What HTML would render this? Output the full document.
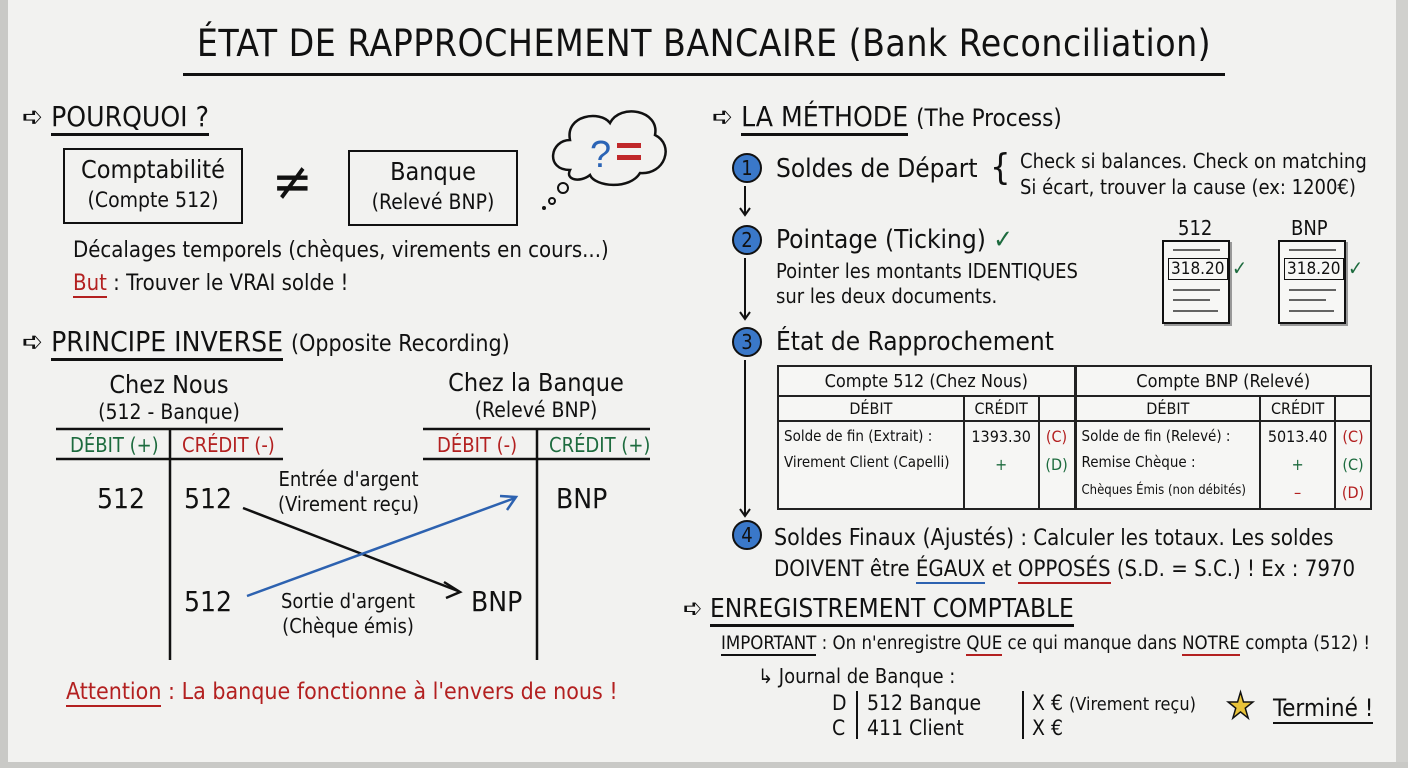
<!DOCTYPE html>
<html><head><meta charset="utf-8"><style>
*{margin:0;padding:0;box-sizing:border-box}
body{width:1408px;height:768px;overflow:hidden;background:#f2f2f0;font-family:"Liberation Sans Narrow","DejaVu Sans Condensed","Liberation Sans",sans-serif;color:#111;position:relative}
.a{position:absolute;white-space:nowrap}
.g{color:#1d6b3e}.r{color:#b32020}
.u{border-bottom:2px solid #b32020}
.box{position:absolute;border:2.5px solid #111;text-align:center;line-height:1.15}
.num{position:absolute;width:30px;height:30px;border-radius:50%;background:#3a78c9;border:2px solid #111;color:#111;font-size:20px;text-align:center;line-height:27px}
table{border-collapse:collapse}
td{border:2px solid #222;padding:1px 5px;font-size:16px;white-space:nowrap}
</style></head><body>
<div class="a" style="left:0;top:0;width:8px;height:768px;background:#c9c9c6"></div>
<div class="a" style="right:0;top:0;width:12px;height:768px;background:#d0d0cd"></div>
<div class="a" style="left:0;bottom:0;width:1408px;height:6px;background:#c9c9c6"></div>

<div class="a" style="left:183px;top:22px;width:1042px;text-align:center;font-size:37px;letter-spacing:0.5px">ÉTAT DE RAPPROCHEMENT BANCAIRE (Bank Reconciliation)</div>
<div class="a" style="left:183px;top:73px;width:1042px;height:3px;background:#111"></div>

<div class="a" style="left:22px;top:100px;font-size:28px">➪ <span style="border-bottom:3px solid #111">POURQUOI ?</span></div>
<div class="box" style="left:63px;top:148px;width:180px;height:76px;font-size:25px;padding-top:6px">Comptabilité<br><span style="font-size:21px">(Compte 512)</span></div>
<div class="a" style="left:272px;top:150px;font-size:54px">≠</div>
<div class="box" style="left:348px;top:150px;width:170px;height:76px;font-size:25px;padding-top:6px">Banque<br><span style="font-size:21px">(Relevé BNP)</span></div>
<svg class="a" style="left:535px;top:95px" width="140" height="120"><path d="M35 75 C10 75 15 45 35 45 C30 20 65 15 75 28 C85 8 125 15 120 40 C140 50 130 80 105 78 C95 95 60 92 55 80 C45 88 30 85 35 75Z" fill="none" stroke="#111" stroke-width="2.5"/><text x="55" y="72" font-size="38" fill="#2b64b5" font-family="Liberation Sans">?</text><rect x="82" y="48" width="24" height="5" fill="#c0282a"/><rect x="82" y="60" width="24" height="5" fill="#c0282a"/><circle cx="28" cy="93" r="5" fill="none" stroke="#111" stroke-width="2"/><circle cx="17" cy="106" r="3" fill="none" stroke="#111" stroke-width="2"/><circle cx="9" cy="113" r="2" fill="#111"/></svg>
<div class="a" style="left:73px;top:238px;font-size:22px">Décalages temporels (chèques, virements en cours...)</div>
<div class="a" style="left:73px;top:271px;font-size:22px"><span class="u r">But</span> : Trouver le VRAI solde !</div>

<div class="a" style="left:22px;top:325px;font-size:28px">➪ <span style="border-bottom:3px solid #111">PRINCIPE INVERSE</span> <span style="font-size:23px">(Opposite Recording)</span></div>
<div class="a" style="left:56px;top:372px;width:226px;text-align:center;font-size:25px;line-height:1.05">Chez Nous<br><span style="font-size:21px">(512 - Banque)</span></div>
<div class="a" style="left:423px;top:370px;width:226px;text-align:center;font-size:25px;line-height:1.05">Chez la Banque<br><span style="font-size:21px">(Relevé BNP)</span></div>
<svg class="a" style="left:0;top:0" width="700" height="700">
<g stroke="#111" stroke-width="2.5" fill="none">
<line x1="56" y1="429" x2="283" y2="429"/><line x1="56" y1="459" x2="283" y2="459"/><line x1="170" y1="429" x2="170" y2="660"/>
<line x1="423" y1="429" x2="650" y2="429"/><line x1="423" y1="459" x2="650" y2="459"/><line x1="537" y1="429" x2="537" y2="660"/>
<line x1="243" y1="508" x2="458" y2="591"/><polyline points="444,582 460,592 446,598"/></g>
<g stroke="#2d62b0" stroke-width="2.5" fill="none"><line x1="247" y1="596" x2="515" y2="498"/><polyline points="500,496 516,497 507,510"/></g>
</svg>
<div class="a g" style="left:70px;top:433px;font-size:20px">DÉBIT (+)</div>
<div class="a r" style="left:182px;top:433px;font-size:20px">CRÉDIT (-)</div>
<div class="a r" style="left:437px;top:433px;font-size:20px">DÉBIT (-)</div>
<div class="a g" style="left:549px;top:433px;font-size:20px">CRÉDIT (+)</div>
<div class="a" style="left:97px;top:482px;font-size:28px">512</div>
<div class="a" style="left:184px;top:482px;font-size:28px">512</div>
<div class="a" style="left:184px;top:585px;font-size:28px">512</div>
<div class="a" style="left:556px;top:482px;font-size:28px">BNP</div>
<div class="a" style="left:471px;top:585px;font-size:28px">BNP</div>
<div class="a" style="left:278px;top:467px;font-size:20px;text-align:center;line-height:1.25">Entrée d'argent<br>(Virement reçu)</div>
<div class="a" style="left:281px;top:589px;font-size:20px;text-align:center;line-height:1.25">Sortie d'argent<br>(Chèque émis)</div>
<div class="a r" style="left:66px;top:679px;font-size:23px"><span class="u">Attention</span> : La banque fonctionne à l'envers de nous !</div>

<div class="a" style="left:712px;top:100px;font-size:28px">➪ <span style="border-bottom:3px solid #111">LA MÉTHODE</span> <span style="font-size:24px">(The Process)</span></div>
<div class="num" style="left:732px;top:153px">1</div>
<div class="num" style="left:732px;top:225px">2</div>
<div class="num" style="left:732px;top:327px">3</div>
<div class="num" style="left:732px;top:520px">4</div>
<svg class="a" style="left:735px;top:180px" width="20" height="350"><g stroke="#111" stroke-width="2" fill="none"><line x1="10" y1="6" x2="10" y2="34"/><polyline points="5,28 10,35 15,28"/><line x1="10" y1="78" x2="10" y2="138"/><polyline points="5,132 10,139 15,132"/><line x1="10" y1="180" x2="10" y2="335"/><polyline points="5,329 10,336 15,329"/></g></svg>
<div class="a" style="left:776px;top:154px;font-size:26px">Soldes de Départ</div>
<div class="a" style="left:990px;top:150px;font-size:36px;font-weight:100;line-height:1">{</div>
<div class="a" style="left:1020px;top:148px;font-size:20px;line-height:1.3">Check si balances. Check on matching<br>Si écart, trouver la cause (ex: 1200€)</div>
<div class="a" style="left:776px;top:225px;font-size:26px">Pointage (Ticking) <span class="g">✓</span></div>
<div class="a" style="left:776px;top:259px;font-size:20px;line-height:1.25">Pointer les montants IDENTIQUES<br>sur les deux documents.</div>
<div class="a" style="left:1178px;top:216px;font-size:20px">512</div>
<div class="a" style="left:1291px;top:216px;font-size:20px">BNP</div>
<div class="a" style="left:1162px;top:240px;width:68px;height:84px;border:2px solid #111;background:#f7f7f5;box-shadow:2px 2px 0 #999"></div>
<div class="a" style="left:1278px;top:240px;width:68px;height:84px;border:2px solid #111;background:#f7f7f5;box-shadow:2px 2px 0 #999"></div>
<div class="a" style="left:1168px;top:258px;border:1.5px solid #111;font-size:17px;padding:0 2px">318.20</div>
<div class="a" style="left:1284px;top:258px;border:1.5px solid #111;font-size:17px;padding:0 2px">318.20</div>
<div class="a g" style="left:1232px;top:256px;font-size:20px">✓</div>
<div class="a g" style="left:1348px;top:256px;font-size:20px">✓</div>
<svg class="a" style="left:1170px;top:245px" width="180" height="75"><g stroke="#333" stroke-width="1.5"><line x1="3" y1="5" x2="50" y2="5"/><line x1="3" y1="45" x2="50" y2="45"/><line x1="3" y1="55" x2="40" y2="55"/><line x1="3" y1="66" x2="48" y2="66"/><line x1="119" y1="5" x2="166" y2="5"/><line x1="119" y1="45" x2="166" y2="45"/><line x1="119" y1="55" x2="156" y2="55"/><line x1="119" y1="66" x2="164" y2="66"/></g></svg>
<div class="a" style="left:776px;top:327px;font-size:26px">État de Rapprochement</div>

<table class="a" style="left:777px;top:365px;width:595px;height:143px;background:#f6f6f4">
<tr style="height:30px"><td colspan="3" style="text-align:center;font-size:18px">Compte 512 (Chez Nous)</td><td colspan="3" style="text-align:center;font-size:18px;border-left:3px solid #222">Compte BNP (Relevé)</td></tr>
<tr style="height:25px"><td style="text-align:center">DÉBIT</td><td style="text-align:center">CRÉDIT</td><td></td><td style="text-align:center;border-left:3px solid #222">DÉBIT</td><td style="text-align:center">CRÉDIT</td><td></td></tr>
<tr><td style="vertical-align:top;line-height:1.75;font-size:15px;border-right:2px solid #222">Solde de fin (Extrait) :<br>Virement Client (Capelli)<br>&nbsp;</td>
<td style="vertical-align:top;line-height:1.75;text-align:center">1393.30<br><span class="g">+</span><br>&nbsp;</td>
<td style="vertical-align:top;line-height:1.75;text-align:center"><span class="r">(C)</span><br><span class="g">(D)</span><br>&nbsp;</td>
<td style="vertical-align:top;line-height:1.75;font-size:15px;border-left:3px solid #222">Solde de fin (Relevé) :<br>Remise Chèque :<br><span style="font-size:13px">Chèques Émis (non débités)</span></td>
<td style="vertical-align:top;line-height:1.75;text-align:center">5013.40<br><span class="g">+</span><br><span class="r">–</span></td>
<td style="vertical-align:top;line-height:1.75;text-align:center"><span class="r">(C)</span><br><span class="g">(C)</span><br><span class="r">(D)</span></td></tr>
</table>

<div class="a" style="left:774px;top:522px;font-size:22px;line-height:1.4"><span style="font-size:23px">Soldes Finaux (Ajustés)</span> : Calculer les totaux. Les soldes<br>DOIVENT être <span style="border-bottom:2px solid #2d62b0">ÉGAUX</span> et <span class="u">OPPOSÉS</span> (S.D. = S.C.) ! Ex : 7970</div>

<div class="a" style="left:683px;top:594px;font-size:26px">➪ <span style="border-bottom:3px solid #111">ENREGISTREMENT COMPTABLE</span></div>
<div class="a" style="left:721px;top:633px;font-size:18.5px"><span style="border-bottom:2px solid #111">IMPORTANT</span> : On n'enregistre <span class="u">QUE</span> ce qui manque dans <span class="u">NOTRE</span> compta (512) !</div>
<div class="a" style="left:758px;top:664px;font-size:20px">↳ Journal de Banque :</div>
<div class="a" style="left:832px;top:691px;font-size:21px;line-height:1.2">D<br>C</div>
<div class="a" style="left:856px;top:691px;width:2px;height:48px;background:#111"></div>
<div class="a" style="left:867px;top:691px;font-size:21px;line-height:1.2">512 Banque<br>411 Client</div>
<div class="a" style="left:1022px;top:691px;width:2px;height:48px;background:#111"></div>
<div class="a" style="left:1032px;top:691px;font-size:21px;line-height:1.2">X € <span style="font-size:18px">(Virement reçu)</span><br>X €</div>
<div class="a" style="left:1226px;top:686px;font-size:36px;color:#e8c33a;-webkit-text-stroke:1.5px #111">★</div>
<div class="a" style="left:1273px;top:694px;font-size:24px;border-bottom:2px solid #111">Terminé !</div>
</body></html>
